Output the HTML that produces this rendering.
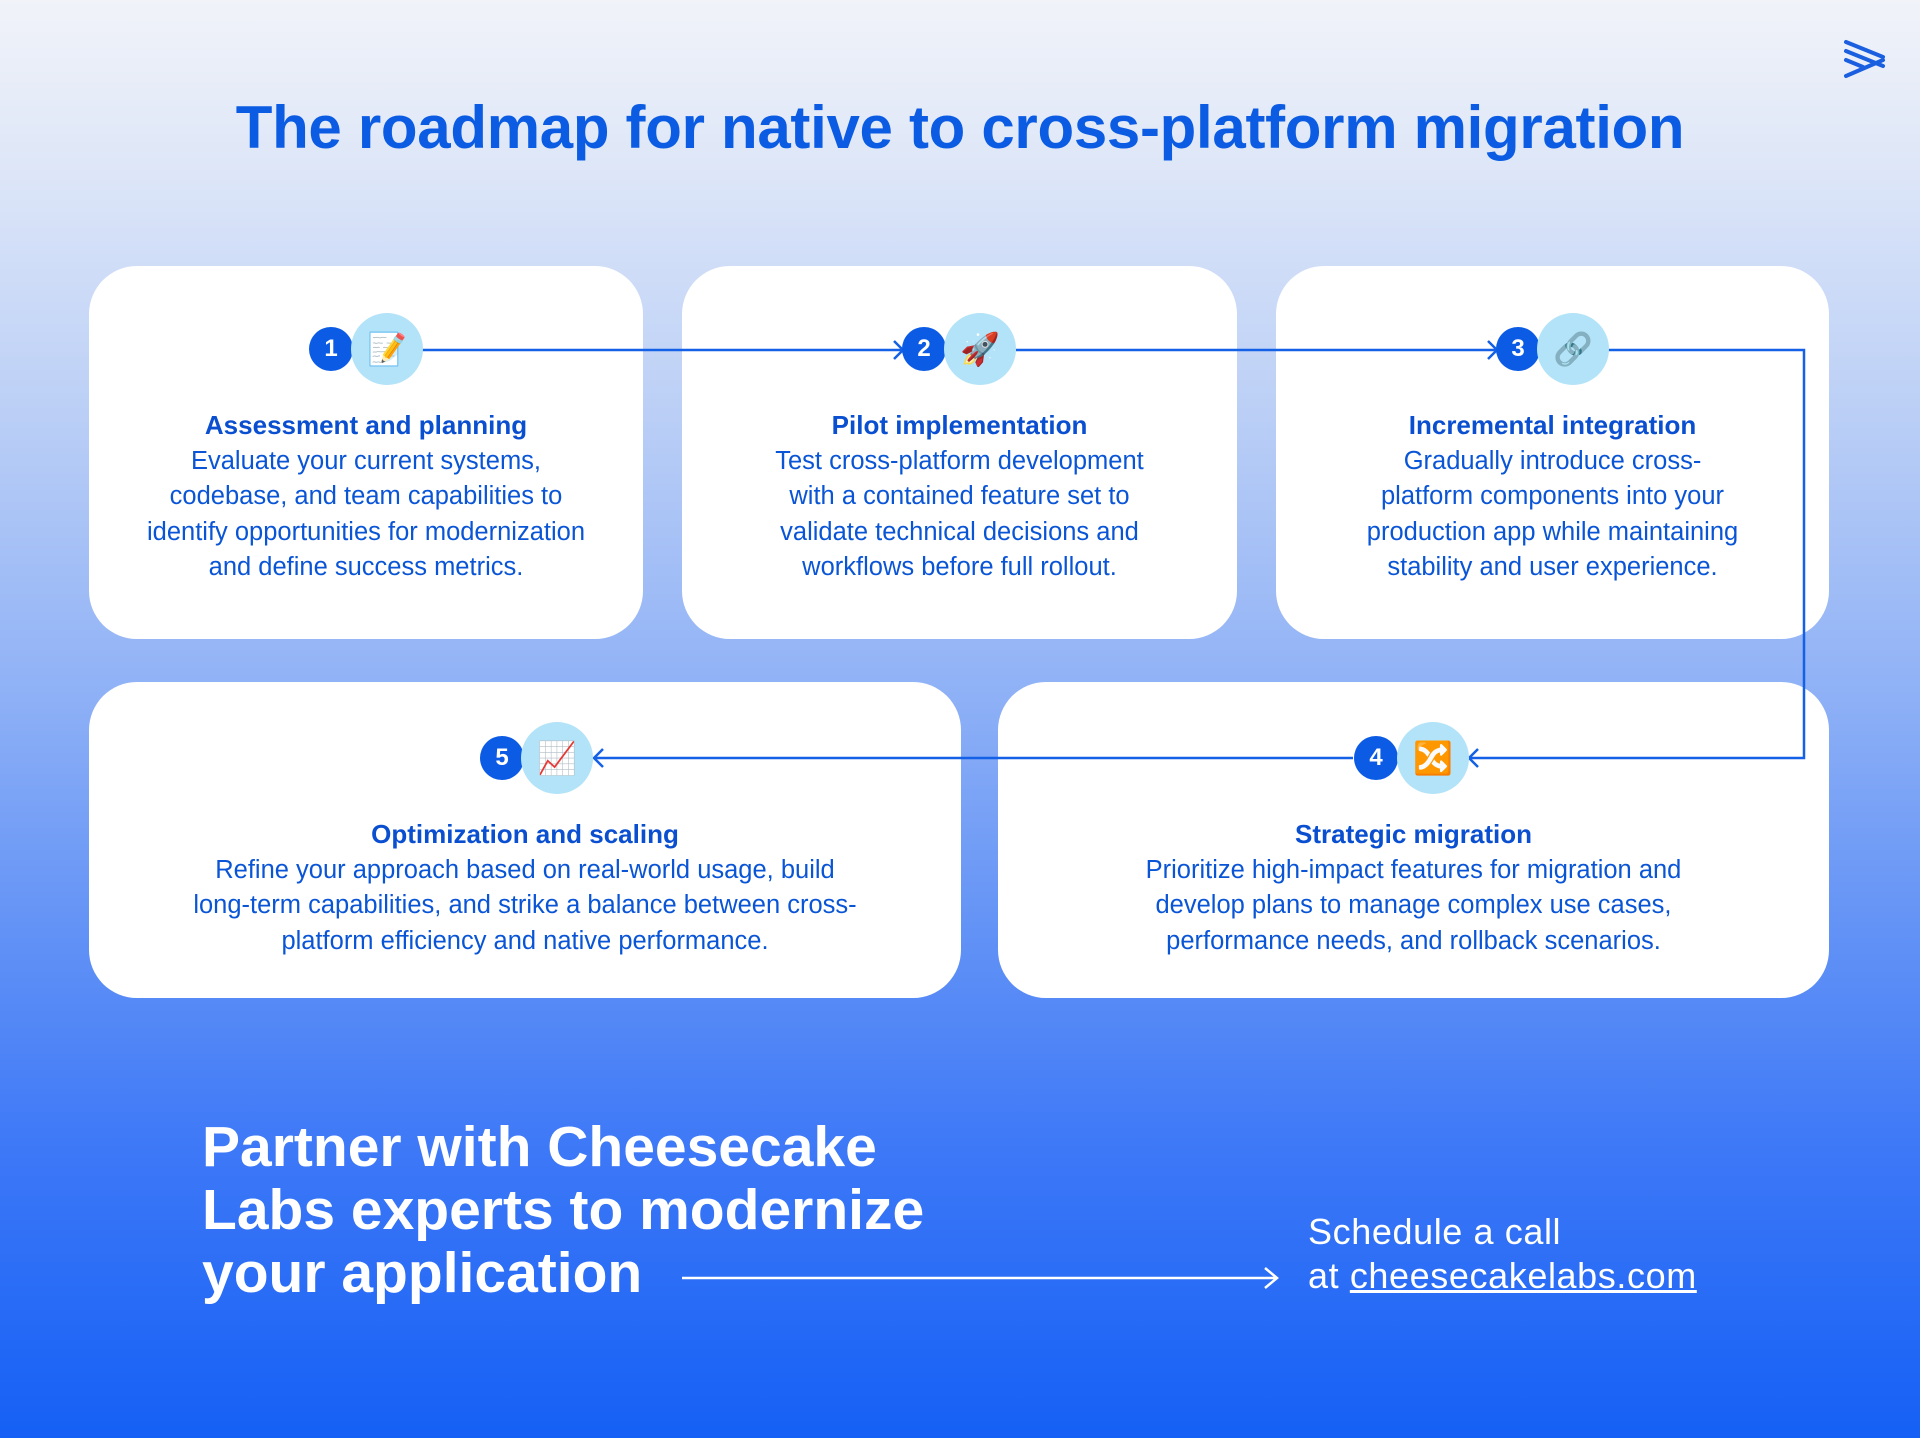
<!DOCTYPE html>
<html><head><meta charset="utf-8"><style>
*{margin:0;padding:0;box-sizing:border-box}
body{width:1920px;height:1438px;overflow:hidden;font-family:"Liberation Sans",sans-serif;position:relative;
background:linear-gradient(180deg,#f1f3f9 0%,#dde6f8 12%,#b8cdf6 30%,#8fb1f6 48%,#5f90f6 66%,#3d78f7 80%,#1560f5 100%)}
.title{position:absolute;top:93px;left:0;width:1920px;text-align:center;font-size:60px;font-weight:bold;color:#0b5ce3;letter-spacing:-0.3px}
.card{position:absolute;background:#fff;border-radius:48px}
.t{position:absolute;text-align:center;color:#0a55d6;font-size:25.5px;line-height:35.5px;white-space:nowrap}
.t b{display:block;font-size:26px;color:#0a4fd0}
.num{position:absolute;width:44px;height:44px;border-radius:50%;background:#0b5be5;color:#fff;font-weight:bold;font-size:24px;text-align:center;line-height:44px}
.emo{position:absolute;width:72px;height:72px;border-radius:50%;background:#b3e3f8;text-align:center;line-height:72px;font-size:32px}
.big{position:absolute;left:202px;top:1116px;color:#fff;font-size:57px;font-weight:bold;line-height:63px}
.sch{position:absolute;left:1308px;top:1210px;color:#fff;font-size:36px;line-height:44px;letter-spacing:0.6px}
</style></head><body>
<div class="title">The roadmap for native to cross-platform migration</div>
<svg style="position:absolute;left:1843px;top:38px" width="44" height="42" viewBox="0 0 44 42"><g stroke="#1a5fe0" stroke-width="4" fill="none" stroke-linecap="round"><path d="M3 4 L40 19 M3 13 L40 28 M3 22 L20 29 M3 38 L40 22"/></g></svg>

<div class="card" style="left:89px;top:266px;width:554px;height:373px"></div>
<div class="card" style="left:682px;top:266px;width:555px;height:373px"></div>
<div class="card" style="left:1276px;top:266px;width:553px;height:373px"></div>
<div class="card" style="left:89px;top:682px;width:872px;height:316px"></div>
<div class="card" style="left:998px;top:682px;width:831px;height:316px"></div>

<svg style="position:absolute;left:0;top:0" width="1920" height="1438">
<g stroke="#1460e6" stroke-width="2.5" fill="none">
<path d="M422 350 H902 M894 341 L903 350 L894 359"/>
<path d="M1016 350 H1496 M1488 341 L1497 350 L1488 359"/>
<path d="M1608 350 H1804 V758 H1469 M1478 749 L1469 758 L1478 767"/>
<path d="M1353 758 H594 M603 749 L594 758 L603 767"/>
<path d="M682 1278 H1277 M1265 1268 L1277 1278 L1265 1288" stroke="#fff"/>
</g></svg>

<div class="num" style="left:309px;top:327px">1</div><div class="emo" style="left:351px;top:313px">📝</div>
<div class="num" style="left:902px;top:327px">2</div><div class="emo" style="left:944px;top:313px">🚀</div>
<div class="num" style="left:1496px;top:327px">3</div><div class="emo" style="left:1537px;top:313px">🔗</div>
<div class="num" style="left:1354px;top:736px">4</div><div class="emo" style="left:1397px;top:722px">🔀</div>
<div class="num" style="left:480px;top:736px">5</div><div class="emo" style="left:521px;top:722px">📈</div>

<div class="t" style="left:99px;width:534px;top:408px"><b>Assessment and planning</b>Evaluate your current systems,<br>codebase, and team capabilities to<br>identify opportunities for modernization<br>and define success metrics.</div>
<div class="t" style="left:692px;width:535px;top:408px"><b>Pilot implementation</b>Test cross-platform development<br>with a contained feature set to<br>validate technical decisions and<br>workflows before full rollout.</div>
<div class="t" style="left:1286px;width:533px;top:408px"><b>Incremental integration</b>Gradually introduce cross-<br>platform components into your<br>production app while maintaining<br>stability and user experience.</div>
<div class="t" style="left:99px;width:852px;top:817px"><b>Optimization and scaling</b>Refine your approach based on real-world usage, build<br>long-term capabilities, and strike a balance between cross-<br>platform efficiency and native performance.</div>
<div class="t" style="left:1008px;width:811px;top:817px"><b>Strategic migration</b>Prioritize high-impact features for migration and<br>develop plans to manage complex use cases,<br>performance needs, and rollback scenarios.</div>

<div class="big">Partner with Cheesecake<br>Labs experts to modernize<br>your application</div>
<div class="sch">Schedule a call<br>at <u>cheesecakelabs.com</u></div>
</body></html>
